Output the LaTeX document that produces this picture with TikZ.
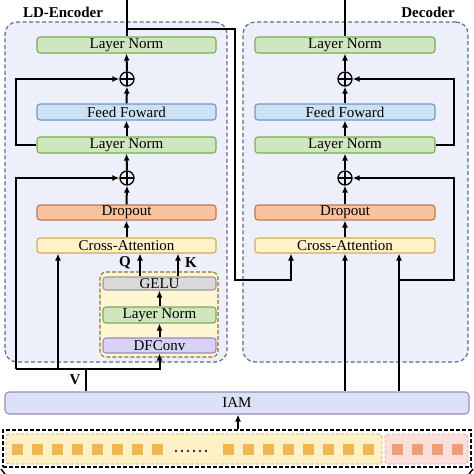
\documentclass[tikz,border=0pt]{standalone}
\usepackage{fontspec}
\setmainfont{Liberation Serif}
\usetikzlibrary{arrows.meta}
\definecolor{contfill}{HTML}{EDF0FB}
\definecolor{contline}{HTML}{56708A}
\definecolor{lnfill}{HTML}{D0E6BE}
\definecolor{lnline}{HTML}{79AD55}
\definecolor{fffill}{HTML}{CDE1F5}
\definecolor{ffline}{HTML}{7097C4}
\definecolor{dropfill}{HTML}{F6C2A0}
\definecolor{dropline}{HTML}{C47648}
\definecolor{cafill}{HTML}{FFF1C8}
\definecolor{caline}{HTML}{CFAF50}
\definecolor{gelufill}{HTML}{D9D9D9}
\definecolor{geluline}{HTML}{9C9C9C}
\definecolor{dfcfill}{HTML}{D8D2F5}
\definecolor{dfcline}{HTML}{9A88C8}
\definecolor{innerfill}{HTML}{FFF6D4}
\definecolor{innerline}{HTML}{857536}
\definecolor{iamfill}{HTML}{DBE1F7}
\definecolor{iamline}{HTML}{A089BE}
\definecolor{seqyfill}{HTML}{FFF1C6}
\definecolor{seqyline}{HTML}{C6AA4E}
\definecolor{seqpfill}{HTML}{FCDFDA}
\definecolor{seqpline}{HTML}{E4A3A3}
\definecolor{sqy}{HTML}{F2B752}
\definecolor{sqp}{HTML}{F09E78}
\begin{document}
\begin{tikzpicture}[x=1pt,y=-1pt,
  blk/.style={draw, rounded corners=3pt, line width=1.1pt, inner sep=0pt, anchor=center,
    font=\fontsize{15}{15}\selectfont},
  lnbox/.style={blk, fill=lnfill, draw=lnline, minimum height=16pt},
  ffbox/.style={blk, fill=fffill, draw=ffline, minimum height=16pt},
  dropbox/.style={blk, fill=dropfill, draw=dropline, minimum height=15pt},
  cabox/.style={blk, fill=cafill, draw=caline, minimum height=15pt},
  gelubox/.style={blk, fill=gelufill, draw=geluline, minimum height=13pt},
  dfcbox/.style={blk, fill=dfcfill, draw=dfcline, minimum height=15pt},
  cont/.style={draw=contline, fill=contfill, dashed, dash pattern=on 4pt off 2.5pt,
    line width=1.2pt, rounded corners=12pt, inner sep=0pt},
  plus/.style={circle, draw, line width=1.3pt, minimum size=14pt, inner sep=0pt,
    path picture={\draw[line width=1.3pt] (path picture bounding box.north) -- (path picture bounding box.south)
      (path picture bounding box.west) -- (path picture bounding box.east);}},
  lbl/.style={font=\fontsize{15}{15}\selectfont\bfseries, inner sep=0pt},
  wire/.style={line width=2pt},
  arr/.style={wire, -{Latex[length=7pt,width=6pt]}},
  sq/.style={minimum size=11pt, inner sep=0pt},
]
\useasboundingbox (0,0) rectangle (474,474);

% containers
\node[cont, minimum width=222pt, minimum height=340pt] (encbox) at (116,192) {};
\node[cont, minimum width=225pt, minimum height=340pt] (decbox) at (355.5,192) {};
\node[lbl] (enclbl) at (63,12) {LD-Encoder};
\node[lbl] (declbl) at (428,12) {Decoder};
\node[draw=innerline, fill=innerfill, dashed, dash pattern=on 4pt off 2pt, line width=1.1pt,
  rounded corners=6pt, minimum width=118pt, minimum height=85pt, inner sep=0pt] (inner) at (159,314.5) {};

% encoder blocks
\node[lnbox, minimum width=179pt] (eln1) at (126.5,45) {Layer Norm};
\node[plus] (eadd1) at (127,79) {};
\node[ffbox, minimum width=179pt] (eff) at (126.5,112) {Feed Foward};
\node[lnbox, minimum width=179pt] (eln2) at (126.5,145) {Layer Norm};
\node[plus] (eadd2) at (127,178) {};
\node[dropbox, minimum width=179pt] (edrop) at (126.5,212.5) {Dropout};
\node[cabox, minimum width=179pt] (eca) at (126.5,245.5) {Cross-Attention};
\node[gelubox, minimum width=113pt] (gelu) at (159.5,283.5) {GELU};
\node[lnbox, minimum width=113pt] (eln3) at (159.5,315) {Layer Norm};
\node[dfcbox, minimum width=113pt] (dfc) at (159.5,345.5) {DFConv};
\node[lbl] (qlbl) at (125,263) {Q};
\node[lbl] (klbl) at (191,263) {K};
\node[lbl] (vlbl) at (75,380) {V};

% decoder blocks
\node[lnbox, minimum width=180pt] (dln1) at (345,45) {Layer Norm};
\node[plus] (dadd1) at (345,79) {};
\node[ffbox, minimum width=180pt] (dff) at (345,112) {Feed Foward};
\node[lnbox, minimum width=180pt] (dln2) at (345,145) {Layer Norm};
\node[plus] (dadd2) at (345,178) {};
\node[dropbox, minimum width=180pt] (ddrop) at (345,212.5) {Dropout};
\node[cabox, minimum width=180pt] (dca) at (345,245.5) {Cross-Attention};

% IAM
\node[blk, fill=iamfill, draw=iamline, rounded corners=4pt, minimum width=464pt, minimum height=22pt] (iam) at (237,403) {IAM};

% sequence
\node[draw=black, dashed, dash pattern=on 4pt off 2pt, line width=1.5pt, minimum width=468pt,
  minimum height=37pt, inner sep=0pt] (seq) at (237,448.5) {};
\node[draw=seqyline, fill=seqyfill, dashed, dash pattern=on 3pt off 2pt, line width=0.9pt,
  rounded corners=3pt, minimum width=376pt, minimum height=30pt, inner sep=0pt] (seqy) at (194,449) {};
\node[draw=seqpline, fill=seqpfill, dashed, dash pattern=on 3pt off 2pt, line width=0.9pt,
  rounded corners=3pt, minimum width=83pt, minimum height=30pt, inner sep=0pt] (seqp) at (426.5,449) {};
\foreach \x in {12,32,52,72,92,112,132,152,223,243,263,283,303,323,343,363}
  \node[sq, fill=sqy] at (\x+5.5,449.5) {};
\foreach \x in {392,412,432,452}
  \node[sq, fill=sqp] at (\x+5.5,449.5) {};
\foreach \x in {176,182,188,194,200,206}
  \fill[black!80] (\x,451) circle (1.4pt);
\draw[line width=1.4pt] (1,469) -- (5,474);
\draw[line width=1.4pt] (473,469) -- (469,474);

% encoder connectors
\draw[arr] (eca.north) -- (edrop.south);
\draw[arr] (edrop.north) -- (eadd2.south);
\draw[arr] (eadd2.north) -- (eln2.south);
\draw[arr] (eln2.north) -- (eff.south);
\draw[arr] (eff.north) -- (eadd1.south);
\draw[arr] (eadd1.north) -- (eln1.south);
\draw[arr] (eln2.west) -- (16,145) -- (16,79) -- (eadd1.west);
\coordinate (etop) at (127,-3);
\coordinate (eout) at (127,29);
\draw[wire] (eln1.north -| 127,0) -- (etop);
\draw[arr] (eout) -- (235,29) -- (235,280) -- (291,280) -- (dca.south -| 291,0);
\draw[arr] (eln3.north) -- (gelu.south);
\draw[arr] (dfc.north) -- (eln3.south);
\draw[arr] (gelu.north -| 140,0) -- (eca.south -| 140,0);
\draw[arr] (gelu.north -| 178,0) -- (eca.south -| 178,0);
\coordinate (vj) at (86,369);
\draw[wire] (iam.north -| 86,0) -- (vj);
\draw[wire] (vj) -- (16,369);
\draw[arr] (vj) -- (159.5,369) -- (dfc.south);
\draw[arr] (58,369) -- (eca.south -| 58,0);
\draw[arr] (16,369) -- (16,178) -- (eadd2.west);

% decoder connectors
\draw[arr] (dca.north) -- (ddrop.south);
\draw[arr] (ddrop.north) -- (dadd2.south);
\draw[arr] (dadd2.north) -- (dln2.south);
\draw[arr] (dln2.north) -- (dff.south);
\draw[arr] (dff.north) -- (dadd1.south);
\draw[arr] (dadd1.north) -- (dln1.south);
\draw[arr] (dln2.east) -- (454,145) -- (454,79) -- (dadd1.east);
\coordinate (dtop) at (345,-3);
\draw[wire] (dln1.north) -- (dtop);
\draw[arr] (iam.north -| 345,0) -- (dca.south);
\draw[arr] (iam.north -| 399,0) -- (dca.south -| 399,0);
\coordinate (dk) at (399,280);
\draw[arr] (dk) -- (454,280) -- (454,178) -- (dadd2.east);

% IAM input
\draw[arr] (seq.north -| 238,0) -- (iam.south -| 238,0);
\end{tikzpicture}
\end{document}
